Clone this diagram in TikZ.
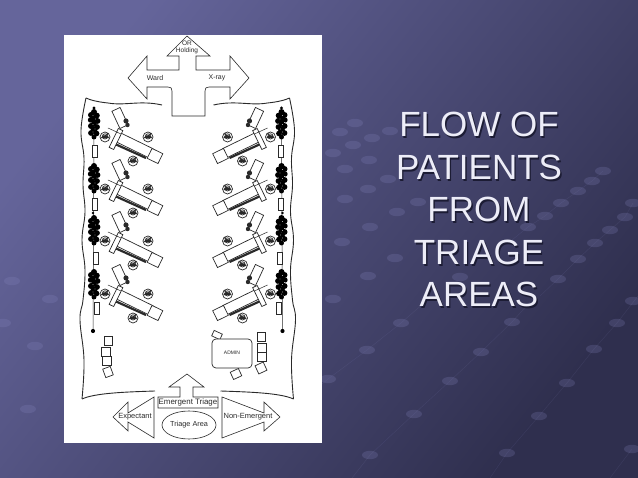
\documentclass[tikz,border=0pt]{standalone}
\usepackage{fontspec}
\setmainfont{Liberation Sans}
\definecolor{bgA}{HTML}{65659B}
\definecolor{bgB}{HTML}{2F2F4E}
\definecolor{dotc}{HTML}{8A8AC4}
\definecolor{ink}{HTML}{2A2A2A}
\definecolor{titlec}{HTML}{EDEDF8}
\definecolor{titles}{HTML}{1C1C34}
\tikzset{
  dotmark/.style={fill=dotc,opacity=.22,draw=none},
  trace/.style={draw=dotc,opacity=.12,line width=.5pt},
  wall/.style={draw=ink,line width=.9pt},
  flow/.style={draw=ink,line width=.6pt,fill=white,line join=miter},
  furn/.style={draw=ink,line width=.7pt,fill=white},
  lab/.style={text=ink,inner sep=0pt},
  titletext/.style={text=titlec,anchor=base,inner sep=0pt,font=\fontsize{35}{36}\selectfont},
  titleshadow/.style={text=titles,anchor=base,inner sep=0pt,font=\fontsize{35}{36}\selectfont}
}
\newcommand{\rrect}[5]{\begin{scope}[shift={(#1,#2)},rotate=#5]\filldraw[furn] (-#3/2,-#4/2) rectangle (#3/2,#4/2);\end{scope}}
\newcommand{\stoolat}[2]{\begin{scope}[shift={(#1,#2)}]
  \filldraw[furn] (0,0) circle (5);
  \fill[ink] (-4.3,1.2) arc (195:345:4.4) -- (2,1.2) -- (-2,1.2) -- cycle;
  \draw[ink,line width=.7pt] (0,-.6) circle (2.6);
  \fill[ink] (2.4,-3) circle (1.1);
\end{scope}}
\newcommand{\plantat}[2]{\begin{scope}[shift={(#1,#2)}]
  \foreach \a/\b/\r in {0/0/3,-3/3/3,3/3.5/2.8,0/6/3.4,-3.5/8/2.7,3.4/9/3,0/11.5/3.2,-3/14/3,3/15/2.9,0/18/3.4,-3/21/2.9,2.6/21.5/2.8,0/25/2.5}
    {\fill[black] (\a,\b) circle (\r);}
  \foreach \a/\b in {-1/3.5,1.5/7,-1/12.5,1/17,-1/20,3/12,-3/10.5}
    {\fill[white] (\a,\b) circle (.45);}
\end{scope}}
\newcommand{\stationunit}{
  \rrect{120}{118}{9}{19}{25}
  \fill[ink] (126,121) circle (2.6);
  \fill[ink] (127.5,125) circle (2.2);
  \stoolat{105}{137}
  \stoolat{148}{137}
  \stoolat{133}{161}
  \draw[ink,line width=2.2pt] (115,144) -- (146,158);
  \rrect{134}{145}{38}{10}{-26}
  \rrect{155}{156}{12}{11}{-26}
  \rrect{116}{139}{5}{21}{-26}
  \draw[ink,line width=.5pt] (108,128) -- (121,134);
}
\begin{document}
\begin{tikzpicture}[x=1pt,y=-1pt]
\useasboundingbox (0,0) rectangle (638,478);
\shade[shading=axis,top color=bgA,bottom color=bgB,shading angle=52] (0,0) rectangle (638,478);
% background traces and dots
\draw[trace] (352,478) -- (370,455) -- (414,414) -- (450,381) -- (481,352) -- (512,322) -- (530,302);
\draw[trace] (490,478) -- (507,453) -- (539,416) -- (567,383) -- (594,349) -- (617,323) -- (638,296);
\draw[trace] (300,402) -- (328,379) -- (367,350) -- (401,323) -- (425,302);
\draw[trace] (610,478) -- (632,449);
\draw[trace] (512,240) -- (528,227) -- (545,216) -- (561,203) -- (578,191) -- (592,181) -- (603,171);
\draw[trace] (540,296) -- (558,279) -- (578,259) -- (595,243) -- (610,230) -- (625,217) -- (633,203);
\foreach \a/\b in {401/323,512/322,617/323,367/350,481/352,594/349,328/379,450/381,567/383,414/414,539/416,370/455,507/453,632/449,
  603/171,592/181,578/191,561/203,545/216,528/227,610/230,595/243,578/259,558/279,633/301,633/203,625/217,
  370/227,368/276,395/258,342/242,397/212,418/202,345/199,368/189,388/179,345/169,369/160,340/132,333/153,355/123,372/138,390/131,353/145,460/277,333/299,
  50/299,3/323,35/346,28/409,12/281}
  {\fill[dotmark] (\a,\b) ellipse (8 and 4.2);}
% paper
\fill[white] (64,35) rectangle (322,443);
% top arrows
\draw[flow] (187,36) -- (210,56) -- (196,56) -- (196,70) -- (230,70) -- (230,56) -- (249,78) -- (230,99) -- (230,87) -- (209,87)
  .. controls (206,87) and (205,88) .. (205,91) -- (205,116) -- (172,116) -- (172,91) .. controls (172,88) and (171,87) .. (168,87)
  -- (147,87) -- (147,99) -- (128,78) -- (147,56) -- (147,70) -- (179,70) -- (179,56) -- (167,56) -- cycle;
\node[lab,font=\fontsize{6.5}{7}\selectfont] (or) at (187,43.5) {OR};
\node[lab,font=\fontsize{6.5}{7}\selectfont] (holding) at (187,50.5) {Holding};
\node[lab,font=\fontsize{7}{7}\selectfont] (ward) at (155,78) {Ward};
\node[lab,font=\fontsize{7}{7}\selectfont] (xray) at (217,78) {X-ray};
% walls, left and right
\foreach \m/\s in {0/1,375.5/-1}{
\begin{scope}[shift={(\m,0)},xscale=\s]
  \draw[wall] (162,105) .. controls (140,100) and (125,106) .. (108,103) .. controls (98,102) and (90,100) .. (86,98);
  \draw[wall] plot[smooth,tension=.7] coordinates {(86,98) (81,130) (84,158) (83,185) (85,212) (82,240) (85,270) (83,300) (80,320) (84,360) (82,399)};
  \draw[wall] (82,399) .. controls (95,393) and (125,392) .. (155,391);
  \draw[ink,line width=.5pt] (94,108) -- (93,331);
  \fill[black] (93,331) circle (2.1);
  \fill[black] (94,108) circle (1.7);
  \fill[black] (93,213) circle (1.4);
  \foreach \py in {112,166,218,272}{\plantat{94}{\py}}
  \foreach \bx/\by in {95/145,95/198,96/252,97/302}{\rrect{\bx}{\by+6}{5}{12}{0}}
  \foreach \dy in {0,52,104,157}{
    \begin{scope}[shift={(0,\dy)}]
      \stationunit
    \end{scope}}
\end{scope}}
% chairs, left
\rrect{108}{341}{8}{9}{0}
\rrect{106}{352}{9}{9}{0}
\rrect{107}{361}{9}{9}{0}
\rrect{108}{372}{8}{9}{20}
% admin and chairs, right
\rrect{217}{335}{9}{6}{-25}
\filldraw[furn,rounded corners=4pt] (212,339) rectangle (252,368);
\node[lab,font=\fontsize{5}{5}\selectfont] (admin) at (232,353) {ADMIN};
\rrect{261}{337}{8}{9}{0}
\rrect{262}{348}{9}{9}{0}
\rrect{262}{357}{9}{9}{0}
\rrect{261}{368}{9}{9}{25}
\rrect{236}{374}{9}{8}{25}
% triage arrows
\draw[flow] (187,374) -- (204,387) -- (193,387) -- (193,397) -- (218,397) -- (218,408) -- (158,408) -- (158,397) -- (180,397) -- (180,387) -- (169,387) -- cycle;
\node[lab,font=\fontsize{7.9}{8}\selectfont] (emergent) at (188,402.5) {Emergent Triage};
\draw[flow] (189,425) ellipse (27 and 14);
\node[lab,font=\fontsize{7.3}{8}\selectfont] (area) at (189,425) {Triage Area};
\draw[flow] (113,417) -- (128,402) -- (128,413) -- (154,397) -- (154,438) -- (128,422) -- (128,431) -- cycle;
\node[lab,font=\fontsize{7.5}{8}\selectfont] (expectant) at (135,417) {Expectant};
\draw[flow] (280,417) -- (264,402) -- (264,413) -- (222,397) -- (222,438) -- (264,422) -- (264,431) -- cycle;
\node[lab,font=\fontsize{7.5}{8}\selectfont] (nonem) at (248,417) {Non-Emergent};
% title
\foreach \t/\yy/\nm in {FLOW OF/137/a,PATIENTS/180/b,FROM/222/c,TRIAGE/265/d,AREAS/307/e}{
  \node[titleshadow] (shadow\nm) at (480.4,\yy+1.5) {\t};
  \node[titletext] (title\nm) at (479,\yy) {\t};
}
\end{tikzpicture}
\end{document}
